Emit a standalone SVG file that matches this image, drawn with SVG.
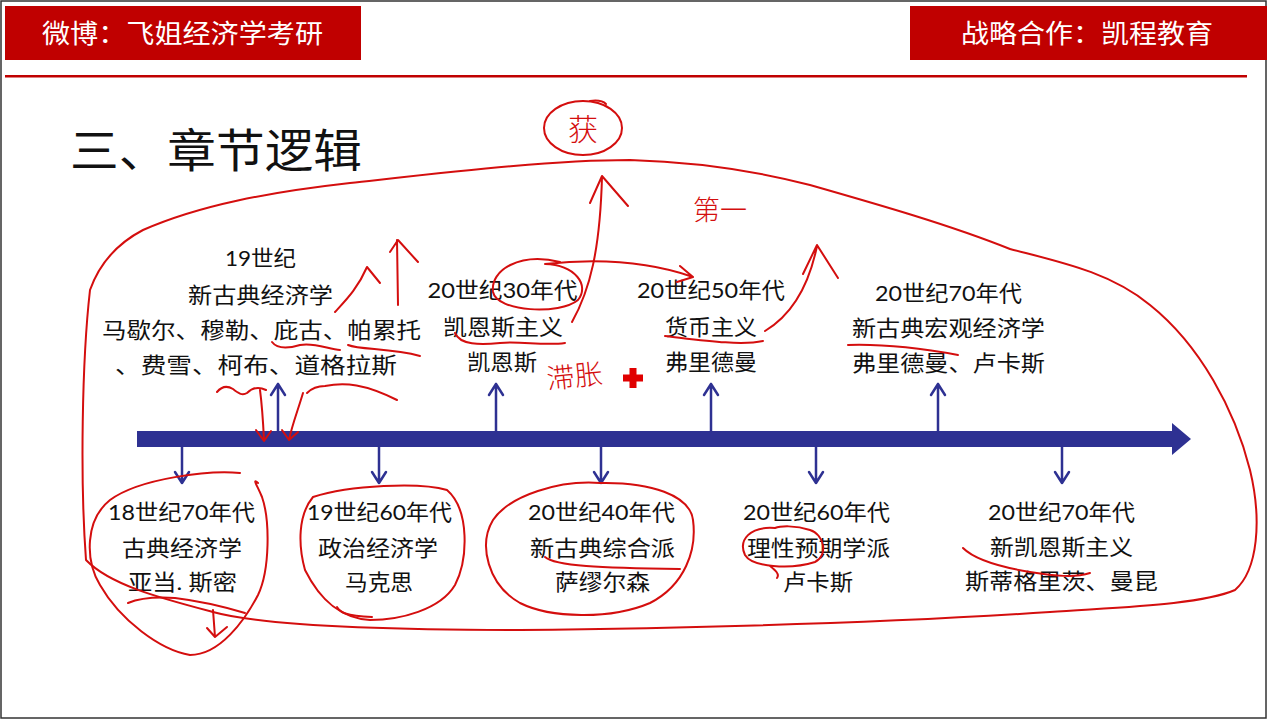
<svg xmlns="http://www.w3.org/2000/svg" width="1276" height="720" viewBox="0 0 1276 720">
<defs>
<style>
.hdr{fill:#C00000}
.hdrt{font-family:"Noto Sans CJK SC","Noto Sans",sans-serif;font-size:26px;fill:#FFFFFF}
.lbl{font-family:Lato,"Noto Sans CJK SC",sans-serif;font-size:22px;fill:#111111;text-anchor:middle}
.title{font-family:"Noto Sans CJK SC",sans-serif;font-size:46px;fill:#111111}
.conn{stroke:#2E3192;stroke-width:2.5;fill:none;stroke-linecap:round;stroke-linejoin:round}
.ink{stroke:#D40E0E;stroke-width:2;fill:none;stroke-linecap:round;stroke-linejoin:round}
.inkt{font-family:"Noto Sans CJK SC",sans-serif;fill:#D40E0E;font-weight:300}
</style>
</defs>
<rect x="0" y="0" width="1276" height="720" fill="#FFFFFF"/>
<rect x="1" y="1" width="1265" height="717" fill="none" stroke="#333333" stroke-width="1.5"/>

<g id="header-left">
<rect class="hdr" x="5" y="6" width="356" height="54"/>
<text class="hdrt" x="42" y="43" textLength="281" lengthAdjust="spacingAndGlyphs">微博：飞姐经济学考研</text>
</g>
<g id="header-right">
<rect class="hdr" x="910" y="6" width="357" height="54"/>
<text class="hdrt" x="961" y="43" textLength="252" lengthAdjust="spacingAndGlyphs">战略合作：凯程教育</text>
</g>
<rect x="5" y="75" width="1242" height="2.5" fill="#C00000"/>

<g id="title">
<text class="title" x="70" y="167" textLength="292" lengthAdjust="spacingAndGlyphs">三、章节逻辑</text>
</g>

<g id="connectors">
<rect x="137" y="431" width="1036" height="16" fill="#2E3192"/>
<polygon points="1172,423 1191,439 1172,455" fill="#2E3192"/>
<!-- up arrows -->
<path class="conn" d="M278,431 V384 M271,395 L278,384 L285,395"/>
<path class="conn" d="M496,431 V384 M489,395 L496,384 L503,395"/>
<path class="conn" d="M711,431 V384 M704,395 L711,384 L718,395"/>
<path class="conn" d="M938,431 V384 M931,395 L938,384 L945,395"/>
<!-- down arrows -->
<path class="conn" d="M182,447 V483 M175,472 L182,483 L189,472"/>
<path class="conn" d="M379,447 V483 M372,472 L379,483 L386,472"/>
<path class="conn" d="M601,447 V483 M594,472 L601,483 L608,472"/>
<path class="conn" d="M816,447 V483 M809,472 L816,483 L823,472"/>
<path class="conn" d="M1062,447 V483 M1055,472 L1062,483 L1069,472"/>
</g>

<g id="node-19c">
<text class="lbl" x="260.5" y="266" textLength="71" lengthAdjust="spacingAndGlyphs">19世纪</text>
<text class="lbl" x="260.5" y="303" textLength="145" lengthAdjust="spacingAndGlyphs">新古典经济学</text>
<text class="lbl" x="261.5" y="338" textLength="319" lengthAdjust="spacingAndGlyphs">马歇尔、穆勒、庇古、帕累托</text>
<text class="lbl" x="256" y="373" textLength="282" lengthAdjust="spacingAndGlyphs">、费雪、柯布、道格拉斯</text>
</g>
<g id="node-20c30">
<text class="lbl" x="502.5" y="298" textLength="150" lengthAdjust="spacingAndGlyphs">20世纪30年代</text>
<text class="lbl" x="503" y="335" textLength="120" lengthAdjust="spacingAndGlyphs">凯恩斯主义</text>
<text class="lbl" x="502" y="370" textLength="70" lengthAdjust="spacingAndGlyphs">凯恩斯</text>
</g>
<g id="node-20c50">
<text class="lbl" x="711" y="298" textLength="148" lengthAdjust="spacingAndGlyphs">20世纪50年代</text>
<text class="lbl" x="711" y="335" textLength="92" lengthAdjust="spacingAndGlyphs">货币主义</text>
<text class="lbl" x="711" y="370" textLength="92" lengthAdjust="spacingAndGlyphs">弗里德曼</text>
</g>
<g id="node-20c70-top">
<text class="lbl" x="948.5" y="301" textLength="147" lengthAdjust="spacingAndGlyphs">20世纪70年代</text>
<text class="lbl" x="948.5" y="336" textLength="193" lengthAdjust="spacingAndGlyphs">新古典宏观经济学</text>
<text class="lbl" x="948.5" y="371" textLength="193" lengthAdjust="spacingAndGlyphs">弗里德曼、卢卡斯</text>
</g>
<g id="node-18c70">
<text class="lbl" x="181.5" y="520" textLength="147" lengthAdjust="spacingAndGlyphs">18世纪70年代</text>
<text class="lbl" x="182" y="556" textLength="120" lengthAdjust="spacingAndGlyphs">古典经济学</text>
<text class="lbl" x="182.5" y="590" textLength="109" lengthAdjust="spacingAndGlyphs">亚当. 斯密</text>
</g>
<g id="node-19c60">
<text class="lbl" x="379.5" y="520" textLength="145" lengthAdjust="spacingAndGlyphs">19世纪60年代</text>
<text class="lbl" x="378" y="556" textLength="120" lengthAdjust="spacingAndGlyphs">政治经济学</text>
<text class="lbl" x="379" y="590" textLength="68" lengthAdjust="spacingAndGlyphs">马克思</text>
</g>
<g id="node-20c40">
<text class="lbl" x="601.5" y="520" textLength="147" lengthAdjust="spacingAndGlyphs">20世纪40年代</text>
<text class="lbl" x="602.5" y="556" textLength="145" lengthAdjust="spacingAndGlyphs">新古典综合派</text>
<text class="lbl" x="602.5" y="590" textLength="95" lengthAdjust="spacingAndGlyphs">萨缪尔森</text>
</g>
<g id="node-20c60">
<text class="lbl" x="816.5" y="520" textLength="147" lengthAdjust="spacingAndGlyphs">20世纪60年代</text>
<text class="lbl" x="818.5" y="556" textLength="143" lengthAdjust="spacingAndGlyphs">理性预期学派</text>
<text class="lbl" x="818" y="590" textLength="70" lengthAdjust="spacingAndGlyphs">卢卡斯</text>
</g>
<g id="node-20c70-bottom">
<text class="lbl" x="1061.5" y="520" textLength="147" lengthAdjust="spacingAndGlyphs">20世纪70年代</text>
<text class="lbl" x="1061.5" y="555" textLength="143" lengthAdjust="spacingAndGlyphs">新凯恩斯主义</text>
<text class="lbl" x="1061.5" y="589" textLength="193" lengthAdjust="spacingAndGlyphs">斯蒂格里茨、曼昆</text>
</g>

<g id="annotations">
<!-- big enclosing loop -->
<path class="ink" d="M1010,249 C1060,262 1110,272 1150,305 C1200,345 1235,410 1250,470 C1262,520 1258,570 1235,590 C1200,605 1120,607 1050,612 C900,622 700,628 520,630 C380,630 260,625 213,612 C160,598 110,585 86,560 C80,480 82,360 90,290 C100,262 120,242 143,230 C200,205 270,192 350,183 C450,172 550,160 630,160 C700,162 760,172 810,185 C880,205 950,225 1010,249"/>
<!-- circled 获 -->
<ellipse class="ink" cx="583" cy="128" rx="39" ry="27"/>
<path class="ink" d="M590,101 C597,100 603,101 606,104"/>
<text class="inkt" x="583" y="140" font-size="30" text-anchor="middle">获</text>
<path class="ink" d="M572,322 C590,290 600,250 602,177 M590,203 L602,176 L628,206"/>
<text class="inkt" x="693" y="220" font-size="27">第一</text>
<!-- 30年代 loop and arrow to 50年代 -->
<path class="ink" d="M560,262 C520,252 490,270 493,292 C497,312 560,315 578,300 C590,285 575,265 545,264 C600,258 650,262 693,277 M680,266 L693,277 L677,282"/>
<path class="ink" d="M455,333 C460,345 480,345 500,343 C520,341 545,346 565,343"/>
<text class="inkt" x="546" y="386" font-size="28" transform="rotate(-6 575 370)">滞胀</text>
<rect x="629.5" y="368" width="7" height="20" fill="#E00000"/>
<rect x="623" y="374.5" width="20" height="7" fill="#E00000"/>
<!-- 货币主义 -->
<path class="ink" d="M665,336 C700,340 740,346 763,341"/>
<path class="ink" d="M765,331 C790,316 808,290 817,246 M803,274 L817,245 L838,278"/>
<path class="ink" d="M848,345 C880,344 920,348 958,355"/>
<!-- 19世纪 block marks -->
<path class="ink" d="M272,342 C278,350 290,348 300,345 C315,342 330,350 340,350"/>
<path class="ink" d="M348,345 C360,350 390,348 420,356"/>
<path class="ink" d="M335,312 C346,300 358,288 367,267 L380,283"/>
<path class="ink" d="M398,305 L397,240 M390,252 L398,240 L418,262"/>
<path class="ink" d="M217,392 C222,386 228,386 233,389 C238,393 242,396 247,393 C252,388 258,386 266,390"/>
<path class="ink" d="M307,393 C312,388 318,386 325,386 C345,382 365,384 397,400"/>
<path class="ink" d="M260,390 C262,405 263,420 264,440 M256,430 L264,441 L271,431"/>
<path class="ink" d="M303,393 C298,410 292,425 289,440 M282,430 L289,440 L298,432"/>
<!-- 18世纪 loop -->
<path class="ink" d="M240,473 C210,470 140,478 110,500 C85,520 85,560 100,585 C120,620 160,650 190,655 C220,655 245,620 258,595 C270,570 270,520 262,497 C257,485 252,478 258,483"/>
<path class="ink" d="M128,603 C140,598 160,597 175,598 C200,601 225,607 245,613"/>
<path class="ink" d="M213,610 L215,637 M207,628 L215,637 L227,627"/>
<!-- 19世纪60年代 loop -->
<path class="ink" d="M313,497 C350,485 420,482 447,490 C470,510 468,560 455,585 C440,610 400,620 370,620 C340,618 320,600 305,570 C298,545 298,515 313,497 Z"/>
<path class="ink" d="M337,607 C340,612 345,616 372,617"/>
<!-- 20世纪40年代 loop -->
<path class="ink" d="M600,483 C560,480 510,495 493,520 C478,545 488,585 520,603 C550,618 610,620 650,603 C685,585 697,550 693,520 C690,495 650,482 600,483 Z"/>
<path class="ink" d="M545,557 C555,566 600,568 680,569"/>
<!-- 理性预期 circle -->
<path class="ink" d="M775,528 C750,526 738,540 745,555 C752,567 790,570 815,562 C828,556 825,535 810,530 C795,525 780,526 775,528 M770,566 C775,570 780,574 777,578"/>
<!-- 新凯恩斯 mark -->
<path class="ink" d="M963,548 C975,560 1000,567 1030,572 C1055,576 1075,578 1090,573"/>
</g>
</svg>
